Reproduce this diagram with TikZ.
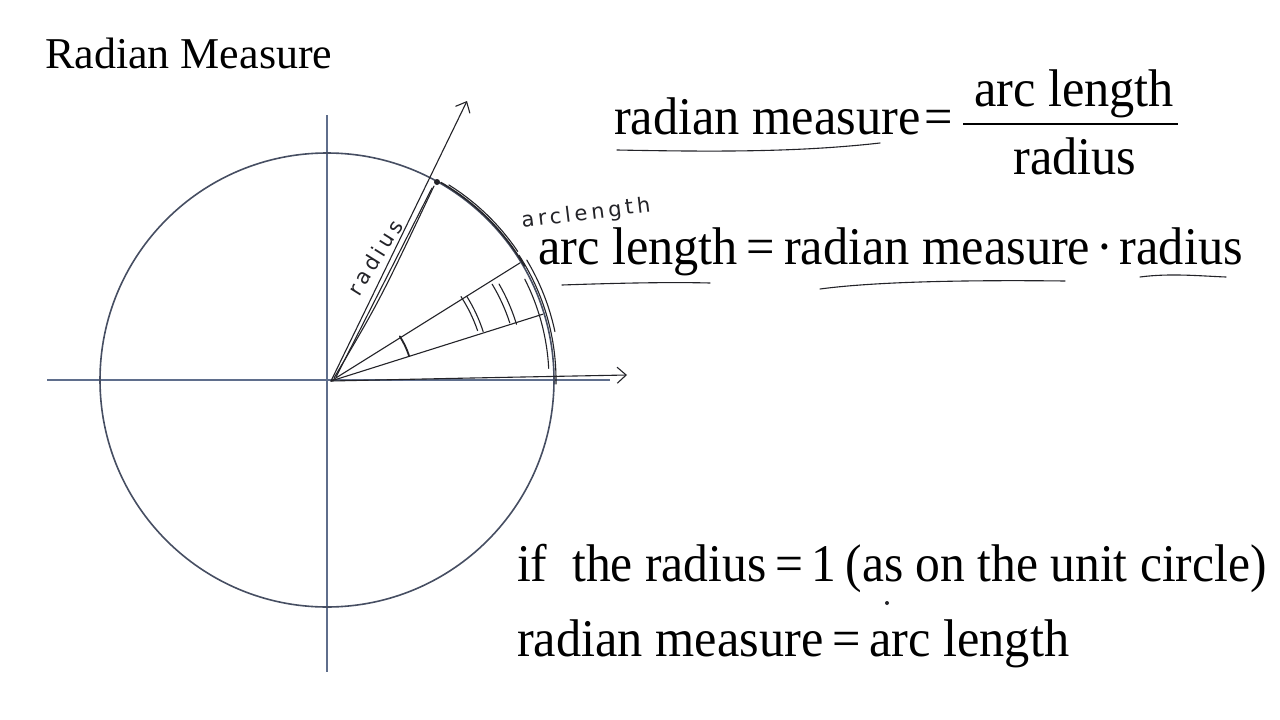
\documentclass[tikz,border=0pt]{standalone}
\usepackage{fontspec}
\setmainfont{Liberation Serif}
\newfontfamily\eqfont{Liberation Serif}[FakeStretch=0.95]
\newfontfamily\eqfontn{Liberation Serif}[FakeStretch=0.935]
\newfontfamily\handfont{DejaVu Sans}[LetterSpace=18]
\usetikzlibrary{arrows.meta,calc}
\definecolor{axiscol}{RGB}{95,110,140}
\definecolor{circcol}{RGB}{70,78,98}
\definecolor{inkcol}{RGB}{35,35,40}
\begin{document}
\begin{tikzpicture}[x=1pt,y=-1pt,
  axisline/.style={draw=axiscol,line width=1.1pt},
  circline/.style={draw=circcol,line width=1.6pt},
  hand/.style={draw=inkcol,line width=1.1pt,line cap=round,line join=round},
  handarrow/.style={hand,-{Straight Barb[length=9pt,width=16pt]}},
  titletext/.style={font=\fontsize{44}{50}\selectfont,inner sep=0pt,anchor=base west},
  eqtext/.style={font=\eqfont\fontsize{53}{60}\selectfont,inner sep=0pt},
  eqtextn/.style={font=\eqfontn\fontsize{53}{60}\selectfont,inner sep=0pt},
  handtext/.style={font=\handfont\fontsize{21}{24}\selectfont,text=inkcol,inner sep=0pt}
]
\useasboundingbox (0,0) rectangle (1280,720);
\fill[white] (0,0) rectangle (1280,720);

% title
\node[titletext] (title) at (45,68) {Radian Measure};

% axes and circle
\coordinate (C) at (327,380);
\coordinate (xl) at (47,380);
\coordinate (xr) at (610,380);
\coordinate (yt) at (327,115);
\coordinate (yb) at (327,672);
\draw[axisline] (xl) -- (xr);
\draw[axisline] (yt) -- (yb);
\draw[circline] (C) circle[radius=227];

% hand drawing
\coordinate (O) at (331,381);
\coordinate (P) at (437,182);
\coordinate (Tip) at (467,101);
\coordinate (Xtip) at (627,375);
\draw[handarrow] (O) -- (Tip);
\draw[hand] (334,378) .. controls (380,300) .. (434,186);
\draw[hand] (336,377) -- (432,188);
\fill[inkcol] (P) circle[radius=3];
\draw[handarrow] (O) .. controls (470,378) .. (Xtip);
\coordinate (A1) at ($(O)+(-32:223)$);
\coordinate (A2) at ($(O)+(-17.5:222)$);
\draw[hand] (O) -- (A1);
\draw[hand] (O) -- (A2);
% arc length strokes along the circle
\draw[hand,line width=1.5pt] ($(C)+(-60:228)$) arc[start angle=-60,end angle=-30,radius=228];
\draw[hand] ($(C)+(-58:230)$) arc[start angle=-58,end angle=-34,radius=230];
\draw[hand] ($(C)+(-33:229)$) arc[start angle=-33,end angle=1,radius=229];
\draw[hand] ($(C)+(-31:233)$) arc[start angle=-31,end angle=-12,radius=233];
\draw[hand] ($(C)+(-27:222)$) arc[start angle=-27,end angle=-3,radius=222];
% angle marks
\draw[hand,line width=1.8pt] ($(O)+(-33:82)$) arc[start angle=-33,end angle=-18,radius=82];
\draw[hand] ($(O)+(-33:155)$) arc[start angle=-33,end angle=-19,radius=155];
\draw[hand] ($(O)+(-32:160)$) arc[start angle=-32,end angle=-18,radius=160];
\draw[hand] ($(O)+(-31:188)$) arc[start angle=-31,end angle=-18,radius=188];
\draw[hand] ($(O)+(-30:194)$) arc[start angle=-30,end angle=-17,radius=194];
% handwritten labels
\node[handtext,rotate=58,anchor=south] (lradius) at (382,262) {radius};
\node[handtext,rotate=7] (larc) at (586,214) {arclength};

% formula 1
\node[eqtext,anchor=base west] (rm1) at (614,134) {radian measure\hspace{0.08em}=};
\node[eqtext,anchor=base] (num) at (1074,106) {arc length};
\node[eqtext,anchor=base] (den) at (1075,174) {radius};
\draw[line width=1.6pt] (963,124) -- (1178,124);

% formula 2
\node[eqtext,anchor=base west] (f2) at (538,264) {arc length\,=\,radian measure\hspace{0.12em}·\hspace{0.12em}radius};

% formula 3 and 4
\node[eqtextn,anchor=base west] (f3) at (517,581) {if\ \ the radius\,=\,1\,(as on the unit circle)};
\node[eqtext,anchor=base west] (f4) at (517,656) {radian measure\,=\,arc length};
\fill[inkcol] (887,603) circle[radius=2];

% hand underlines
\draw[hand] (617,150) .. controls (720,152) and (800,152) .. (880,143);
\draw[hand] (562,285) .. controls (620,283) and (670,282) .. (710,283);
\draw[hand] (820,289) .. controls (880,281) and (980,280) .. (1065,281);
\draw[hand] (1140,277) .. controls (1170,273) and (1200,276) .. (1226,277);
\end{tikzpicture}
\end{document}
